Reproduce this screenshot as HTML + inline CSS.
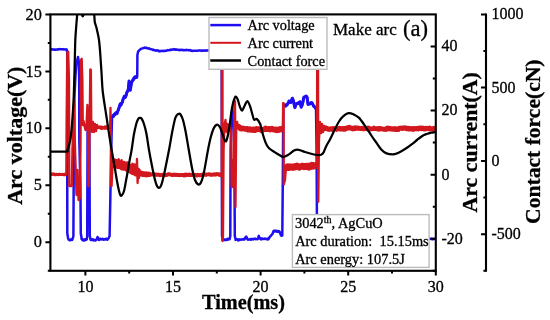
<!DOCTYPE html>
<html><head><meta charset="utf-8"><title>Arc plot</title>
<style>html,body{margin:0;padding:0;background:#fff;width:550px;height:320px;overflow:hidden}svg{display:block}</style>
</head><body>
<svg width="550" height="320" viewBox="0 0 550 320">
<defs><clipPath id="pc"><rect x="50.4" y="14.4" width="385.4" height="256.4"/></clipPath></defs>
<rect width="550" height="320" fill="#fff"/>
<g clip-path="url(#pc)" fill="none" stroke-linejoin="round" stroke-linecap="butt">
<polyline points="50.4,49.0 50.9,49.0 51.4,49.4 51.9,49.4 52.4,49.6 52.9,49.4 53.5,49.6 54.0,49.7 54.5,49.5 55.0,49.8 55.5,49.7 56.0,49.4 56.5,49.4 57.0,49.6 57.5,49.7 58.0,49.4 58.5,49.2 59.1,49.2 59.6,49.1 60.1,49.2 60.6,49.3 61.1,49.3 61.6,49.3 62.1,49.3 62.6,49.3 63.1,49.4 63.6,49.3 64.2,49.2 64.7,49.5 65.2,49.4 65.7,49.4 66.2,49.3 66.7,49.6 67.2,52.0 67.3,233.5 68.0,237.5 68.0,238.1 68.5,239.4 69.0,239.9 69.5,239.9 70.0,240.4 70.5,239.9 71.0,239.4 71.6,239.8 72.1,240.0 72.6,239.0 73.4,236.0 73.8,160.0 74.3,100.0 75.5,75.0 76.5,63.0 78.0,57.0 78.9,62.0 79.2,80.0 79.3,140.0 80.4,185.0 80.8,233.5 81.5,237.5 81.5,239.0 82.0,239.1 82.5,240.1 83.0,239.6 83.5,240.5 84.0,239.5 84.6,240.4 85.1,239.3 85.7,239.5 86.2,239.8 86.8,239.3 87.2,236.0 87.6,130.0 88.5,110.0 89.4,130.0 89.8,236.0 90.6,239.8 90.6,239.5 91.1,239.9 91.7,239.6 92.2,240.0 92.7,239.3 93.3,239.4 93.8,240.4 94.4,240.0 94.9,240.1 95.4,240.5 96.0,239.9 96.5,239.4 97.0,239.0 97.5,237.0 98.0,238.5 98.5,239.7 99.0,240.0 99.5,238.8 100.1,239.4 100.6,238.8 101.1,239.2 101.6,239.5 102.1,239.1 102.7,238.8 103.2,239.4 103.7,239.8 104.2,239.5 104.8,239.2 105.3,239.5 105.8,238.7 106.3,238.7 106.8,238.9 107.4,239.7 107.9,238.7 108.4,238.6 109.6,236.0 110.3,200.0 111.2,150.0 112.0,118.0 112.1,116.7 112.5,117.1 112.9,116.4 113.3,116.1 113.7,116.4 114.2,114.8 114.8,114.2 115.3,113.1 115.7,112.5 116.1,112.9 116.5,112.5 116.9,113.2 117.3,113.2 117.8,111.6 118.2,109.7 118.6,109.9 119.0,108.3 119.4,106.7 119.8,105.6 120.2,103.8 121.0,105.4 121.5,103.2 122.1,103.0 122.6,101.8 123.0,99.1 123.4,99.0 123.9,97.7 124.3,96.0 124.7,96.4 125.2,96.6 125.6,97.6 126.2,94.8 126.7,93.2 127.1,91.4 127.5,91.6 127.9,90.9 128.3,89.4 129.1,81.5 129.6,88.7 130.2,90.3 130.7,87.4 131.1,84.4 131.6,82.1 132.1,81.7 132.7,79.8 133.2,80.1 133.6,78.5 134.0,79.3 134.4,77.7 134.8,78.4 135.2,77.8 135.7,77.3 136.1,77.3 136.5,77.5 137.2,76.6 137.3,70.0 137.4,55.0 138.1,51.6 139.5,50.0 141.5,48.6 144.8,47.7 144.8,47.6 145.4,47.8 146.0,47.9 146.6,47.7 147.2,48.3 147.9,48.4 148.5,48.4 149.1,48.3 149.7,49.0 150.3,48.9 150.9,49.1 151.6,49.4 152.3,49.5 152.9,49.9 153.6,49.7 154.3,50.2 155.0,50.2 155.6,50.6 156.2,50.7 156.9,50.3 157.5,50.5 158.1,50.6 158.8,51.2 159.4,51.0 160.0,51.2 160.6,51.0 161.2,51.0 161.8,50.9 162.4,50.8 163.0,50.9 163.6,50.9 164.2,51.0 164.8,50.8 165.4,50.9 166.0,50.7 166.6,50.7 167.2,50.4 167.8,50.0 168.4,50.3 169.0,50.2 169.6,50.1 170.2,49.8 170.8,49.9 171.4,49.5 172.0,49.8 172.6,49.6 173.2,49.3 173.8,49.1 174.4,49.6 175.0,49.7 175.7,49.3 176.3,49.8 176.9,49.7 177.5,49.6 178.1,49.8 178.8,50.1 179.4,50.2 180.0,49.7 180.6,50.1 181.2,49.7 181.8,50.1 182.4,49.8 183.0,50.2 183.6,50.2 184.2,50.0 184.8,50.3 185.4,50.0 186.0,49.9 186.6,50.2 187.2,49.9 187.8,50.1 188.4,50.2 189.0,50.4 189.6,50.2 190.2,50.1 190.8,50.7 191.4,50.5 192.1,50.9 192.7,51.0 193.3,50.7 193.9,50.8 194.5,50.8 195.1,50.8 195.7,50.8 196.3,50.7 196.9,50.7 197.6,50.8 198.2,50.5 198.8,50.4 199.4,50.6 200.0,50.4 200.6,50.4 201.2,50.9 201.9,50.6 202.5,50.7 203.1,50.4 203.8,50.7 204.4,50.7 205.0,50.4 205.6,50.7 206.2,50.7 206.9,50.3 207.5,50.6 208.1,50.5 208.8,50.6 209.4,50.4 210.0,50.6 210.6,50.6 211.2,50.2 211.8,50.3 212.4,50.6 213.1,50.8 213.7,50.4 214.3,50.5 214.9,50.5 215.5,50.3 216.1,50.2 216.7,50.1 217.3,50.1 217.9,50.2 218.6,50.0 219.2,50.1 219.8,50.3 220.4,49.9 221.0,50.3 221.6,52.0 222.0,236.0 222.8,239.3 222.3,239.7 222.8,239.0 223.3,239.9 223.9,239.2 224.4,239.9 224.9,239.9 225.4,240.0 225.9,239.5 226.5,239.9 227.0,239.9 227.5,238.7 228.0,239.0 228.6,239.5 229.1,239.3 229.6,239.1 230.3,236.0 230.6,150.0 231.3,116.0 232.2,110.0 233.3,116.0 234.3,150.0 234.8,236.0 235.6,239.6 235.6,239.9 236.1,239.1 236.6,239.4 237.2,239.7 237.7,239.3 238.2,240.5 238.7,240.1 239.3,239.4 239.8,240.0 240.3,239.7 240.8,239.4 241.3,239.4 241.9,239.7 242.4,239.2 242.9,239.6 243.4,239.4 244.0,238.8 244.5,239.5 245.0,238.5 245.6,237.2 246.2,236.6 246.8,237.5 247.5,239.4 248.0,239.7 248.5,239.6 249.0,239.6 249.5,239.6 250.0,239.5 250.5,239.0 251.0,239.8 251.5,239.2 252.0,238.9 252.6,239.2 253.1,239.5 253.6,239.1 254.1,238.8 254.6,238.8 255.1,238.6 255.6,239.2 256.1,239.1 256.6,239.0 257.1,239.2 257.6,239.3 258.2,237.9 258.8,235.9 259.4,237.6 260.0,238.7 260.5,238.5 261.0,239.4 261.5,238.7 262.0,238.4 262.5,238.9 263.0,239.0 263.5,238.9 264.0,238.8 264.5,238.6 265.0,238.9 265.5,238.8 266.0,239.1 266.5,238.9 267.0,238.8 267.5,239.5 268.0,238.5 268.5,239.3 269.0,238.0 269.5,237.6 270.0,236.6 270.5,236.1 271.0,235.8 271.5,234.9 272.0,234.2 272.6,233.8 273.1,232.0 273.7,230.7 274.2,231.6 274.8,231.3 275.4,230.7 275.9,231.3 276.4,230.9 277.0,231.6 277.5,231.0 278.0,232.0 278.5,231.7 279.0,231.1 279.5,231.6 280.0,232.4 280.5,234.1 281.0,235.6 281.6,235.7 282.3,235.6 282.8,180.0 283.3,104.0 284.3,104.6 284.9,105.0 285.5,106.1 285.9,105.3 286.4,104.9 286.9,104.6 287.3,104.8 287.7,103.9 288.1,103.3 288.6,102.5 289.0,101.0 289.4,101.6 289.9,101.2 290.3,102.3 290.7,102.2 291.1,101.9 291.5,100.3 292.0,99.3 292.4,98.3 292.8,98.8 293.2,99.8 293.6,101.3 294.0,103.5 294.5,105.0 294.9,107.4 295.3,106.2 295.8,105.4 296.2,104.5 296.6,103.5 297.0,103.8 297.5,103.2 297.9,103.8 298.3,103.9 298.7,103.4 299.1,102.9 299.6,102.1 300.0,101.8 300.6,104.6 301.2,107.0 301.6,105.8 302.1,105.6 302.5,104.0 302.9,102.4 303.4,100.0 303.8,97.8 304.2,97.7 304.6,97.3 305.1,96.9 305.5,96.8 305.9,96.4 306.3,96.1 306.7,96.3 307.1,97.2 307.6,100.8 308.0,104.7 308.4,104.2 308.8,104.1 309.3,103.6 309.7,103.6 310.1,103.7 310.5,102.7 311.0,102.6 311.4,102.9 311.8,102.7 312.2,103.5 312.6,104.0 313.1,104.8 313.5,105.5 313.9,106.5 314.4,106.4 314.8,106.7 315.2,107.6 315.6,107.9 316.0,108.2 316.6,150.0 317.0,236.0 318.0,239.2 318.0,238.9 318.5,238.8 319.0,238.6 319.5,238.7 320.0,239.0 320.5,238.5 321.0,238.5 321.5,238.8 322.0,238.7 322.5,238.9 323.0,238.9 323.5,238.8 324.0,239.2 324.5,238.7 325.0,238.8 325.5,238.7 326.0,238.9 326.5,238.7 327.0,238.7 327.5,238.9 328.0,238.7 328.5,238.8 329.0,239.0 329.5,238.5 330.0,238.5 330.5,238.6 331.0,238.9 331.5,238.9 332.0,238.7 332.5,238.8 333.0,238.7 333.5,238.9 334.0,238.7 334.5,239.2 335.0,239.4 335.5,239.5 336.0,239.4 336.5,239.5 337.0,238.9 337.5,239.1 338.0,239.4 338.5,239.3 339.0,239.1 339.5,239.4 340.0,239.2 340.5,239.3 341.0,239.0 341.5,238.9 342.0,239.1 342.5,238.9 343.0,239.0 343.5,239.2 344.0,238.8 344.5,238.5 345.0,238.5 345.5,238.6 346.0,239.0 346.5,238.8 347.0,238.8 347.5,238.7 348.0,239.3 348.5,238.9 349.0,238.8 349.5,238.6 350.0,238.6 350.5,238.6 351.0,238.9 351.5,238.6 352.0,238.5 352.5,238.8 353.0,238.6 353.5,239.0 354.0,238.5 354.5,238.8 355.0,238.9 355.5,238.7 356.0,239.0 356.5,238.7 357.0,238.5 357.5,238.6 358.0,238.4 358.5,238.7 359.0,238.6 359.5,239.0 360.0,239.0 360.5,238.8 361.0,238.6 361.5,238.8 362.0,238.9 362.5,239.0 363.0,239.0 363.5,239.4 364.0,238.9 364.5,238.9 365.0,239.4 365.5,239.2 366.0,239.4 366.5,239.1 367.0,239.4 367.5,239.2 368.0,239.3 368.5,239.2 369.0,239.1 369.5,238.9 370.0,238.9 370.5,239.3 371.0,239.3 371.5,239.3 372.0,239.0 372.5,239.2 373.0,239.2 373.5,239.0 374.0,239.0 374.5,238.8 375.0,238.8 375.5,238.8 376.0,238.6 376.5,239.0 377.0,239.0 377.5,238.5 378.0,239.1 378.5,239.1 379.0,238.9 379.5,238.6 380.0,239.2 380.5,238.7 381.0,239.3 381.5,239.1 382.0,238.7 382.5,238.8 383.0,239.1 383.5,239.1 384.0,239.2 384.5,239.3 385.0,238.9 385.5,238.8 386.0,239.3 386.5,238.8 387.0,239.3 387.5,238.9 388.0,239.3 388.5,239.3 389.0,239.3 389.5,239.1 390.0,239.3 390.5,238.9 391.0,239.1 391.5,238.8 392.0,239.0 392.5,238.8 393.0,238.6 393.5,238.7 394.0,238.4 394.5,238.5 395.0,238.9 395.5,238.9 396.0,239.2 396.5,239.0 397.0,238.7 397.5,238.9 398.0,239.1 398.5,239.0 399.0,238.7 399.5,239.2 400.0,239.1 400.5,238.7 401.0,238.9 401.5,238.8 402.0,239.0 402.5,238.7 403.0,238.7 403.5,238.8 404.0,239.0 404.5,238.4 405.0,238.4 405.5,238.7 406.0,238.9 406.5,238.8 407.0,238.8 407.5,239.0 408.0,239.0 408.5,238.6 409.0,239.0 409.5,238.5 410.0,238.5 410.5,238.8 411.0,238.6 411.5,238.8 412.0,238.5 412.5,239.1 413.0,238.8 413.5,238.9 414.0,239.1 414.5,239.0 415.0,239.1 415.5,239.3 416.0,239.2 416.5,238.8 417.0,238.9 417.5,239.1 418.0,239.0 418.5,239.1 419.0,238.9 419.5,238.6 420.0,238.7 420.5,239.1 421.0,238.7 421.5,238.9 422.0,239.0 422.5,238.8 423.0,238.8 423.5,238.8 424.0,238.7 424.5,239.1 425.0,239.0 425.5,239.3 426.0,238.9 426.5,239.3 427.0,239.2 427.5,239.0 428.0,238.9 428.5,238.7 429.0,239.0 429.5,238.8 430.0,239.0 430.5,238.7 431.0,238.7 431.5,238.8 432.0,239.2 432.5,238.8 433.0,239.3 433.5,238.9 434.0,239.1 434.5,238.9 435.0,239.1 435.5,238.8 436.0,238.9 436.5,239.2 437.0,238.7" stroke="#1f0ff0" stroke-width="2.5"/>
<polyline points="112.1,117.3 112.6,116.7 113.2,115.4 113.7,115.7 114.2,114.2 114.8,114.7 115.3,114.1 115.8,113.2 116.4,113.8 116.9,113.6 117.5,111.5 118.0,110.7 118.6,108.6 119.1,107.7 119.7,105.5 120.2,104.0 121.0,104.6 121.5,103.5 122.1,102.4 122.6,101.0 123.2,98.8 123.7,98.0 124.3,96.4 124.9,96.2 125.6,96.5 126.2,95.1 126.7,92.8 127.2,91.9 127.8,90.7 128.3,89.5 129.1,81.0 129.6,87.7 130.2,90.1 130.9,86.5 131.6,82.2 132.1,81.6 132.7,80.3 133.2,79.6 133.7,78.6 134.3,77.6 134.8,76.8 135.4,76.6 135.9,76.5 136.5,77.5 137.2,76.7" stroke="#1f0ff0" stroke-width="3.0"/>
<polyline points="284.3,104.2 284.9,105.0 285.5,105.9 286.1,105.9 286.7,105.1 287.3,104.5 287.9,103.3 288.4,102.5 289.0,101.1 289.6,101.6 290.1,102.0 290.7,102.5 291.3,101.3 291.8,99.5 292.4,98.2 293.0,100.1 293.6,101.7 294.2,104.8 294.9,107.6 295.5,105.9 296.2,103.6 296.7,103.5 297.2,103.3 297.8,103.1 298.3,103.0 298.9,102.5 299.4,102.1 300.0,101.8 300.6,104.4 301.2,107.2 301.9,105.4 302.5,103.8 303.1,100.9 303.8,97.4 304.3,97.1 304.9,96.5 305.4,96.6 305.9,96.0 306.5,96.6 307.1,97.5 308.0,104.0 308.5,103.9 309.1,104.0 309.6,104.0 310.1,103.8 310.7,103.2 311.2,102.8 311.8,102.6 312.4,103.5 312.9,104.5 313.5,106.0 314.1,106.5 314.6,106.8 315.2,107.6 316.0,108.8" stroke="#1f0ff0" stroke-width="3.0"/>
<polyline points="50.4,174.4 50.9,174.6 51.4,173.8 51.9,174.1 52.5,173.9 53.0,174.8 53.5,174.6 54.0,173.9 54.5,175.1 55.0,175.2 55.5,175.0 56.0,175.1 56.6,174.6 57.1,174.3 57.6,174.8 58.1,174.1 58.6,174.1 59.1,174.0 59.6,173.7 60.1,174.2 60.7,174.2 61.2,174.7 61.7,174.3 62.2,174.5 62.7,174.3 63.2,174.5 63.7,174.3 64.2,174.1 64.8,175.0 65.3,175.0 65.8,174.8 66.3,174.6 66.6,120.0 67.3,52.5 68.2,51.7 69.0,80.0 69.3,186.0 70.0,186.0 71.8,186.0 72.4,150.0 73.5,120.0 74.3,100.5 74.8,140.0 76.5,195.0 77.6,170.0 78.5,200.0 79.8,198.0 80.5,150.0 81.0,60.0 81.7,58.7 82.4,80.0 82.8,125.0 83.5,121.0 84.5,126.0 85.5,130.0 86.5,125.0 87.4,105.0 88.0,130.0 88.3,186.0 88.9,186.0 89.3,140.0 89.8,110.0 90.3,69.4 90.9,70.0 91.3,125.0 92.0,132.0 93.0,122.0 94.0,132.0 95.0,124.0 96.0,131.0 97.0,125.0 97.0,128.1 97.5,127.9 98.0,127.8 98.5,127.8 99.0,128.1 99.6,127.2 100.1,127.8 100.6,127.3 101.1,128.8 101.6,127.1 102.1,128.7 102.6,127.2 103.1,128.4 103.7,127.7 104.2,127.7 104.7,128.3 105.2,126.4 105.7,126.3 106.2,128.0 106.7,127.2 107.2,126.3 107.8,128.0 108.3,127.9 108.8,126.2 109.3,126.8 109.8,126.3 110.1,128.0 110.5,108.0 110.9,140.0 111.1,186.0 111.6,186.0 112.3,170.0 113.2,160.0 113.2,161.4 113.6,161.7 114.0,163.9 114.5,163.8 114.9,161.2 115.3,164.3 115.8,162.6 116.2,164.3 116.6,163.9 117.0,163.5 117.5,162.5 117.9,161.3 118.3,160.0 118.7,159.2 119.2,162.9 119.6,163.0 120.0,164.0 120.4,162.4 120.8,161.8 121.2,163.0 121.6,160.2 122.0,163.2 122.4,162.8 122.8,162.9 123.2,163.7 123.6,164.7 124.0,162.0 124.4,162.4 124.8,163.8 125.2,163.9 125.6,163.2 126.0,164.7 126.4,162.8 126.8,162.5 127.2,162.5 127.6,163.7 128.0,162.5 128.4,165.7 128.8,167.7 129.2,165.2 129.6,167.5 130.0,169.7 130.4,165.9 130.8,166.2 131.2,169.1 131.6,169.1 132.0,167.5 132.4,163.7 132.8,164.2 133.2,166.9 133.6,167.7 134.0,167.6 134.5,164.5 134.9,167.5 135.3,165.0 135.7,167.6 136.1,166.6 136.5,171.7 137.0,159.0 137.6,183.0 138.2,170.0 139.0,178.0 139.6,170.0 137.6,168.3 138.2,169.4 138.7,170.7 139.3,171.2 139.9,171.0 140.4,172.7 141.0,173.5 141.5,172.8 142.0,172.7 142.5,174.1 143.0,173.5 143.5,173.0 144.0,173.6 144.5,173.2 145.0,174.4 145.5,174.1 146.0,173.5 146.5,175.0 147.0,173.7 147.5,174.1 148.0,173.5 148.5,174.7 149.0,173.4 149.5,174.0 150.0,173.2 150.5,173.9 151.0,174.3 151.5,174.1 152.0,173.9 152.5,174.0 153.0,173.9 153.5,174.2 154.0,173.4 154.5,174.3 155.0,174.1 155.5,175.3 156.0,175.5 156.5,173.9 157.0,174.1 157.5,175.0 158.0,174.8 158.5,173.8 159.0,175.0 159.5,175.4 160.0,174.4 160.5,174.1 161.0,174.4 161.5,175.0 162.0,173.8 162.5,173.9 163.0,173.8 163.5,174.7 164.0,174.6 164.5,174.3 165.0,174.6 165.5,173.9 166.0,174.3 166.5,175.4 167.0,174.6 167.5,174.0 168.0,175.2 168.5,174.2 169.0,174.1 169.5,173.8 170.0,174.2 170.5,174.4 171.0,174.5 171.5,175.6 172.0,174.3 172.5,174.1 173.0,174.5 173.5,174.9 174.0,173.7 174.5,174.6 175.0,173.9 175.5,174.3 176.0,174.4 176.5,175.1 177.0,174.7 177.5,174.4 178.0,175.1 178.5,174.5 179.0,174.8 179.5,176.0 180.0,175.3 180.5,175.7 181.0,174.7 181.5,175.6 182.0,174.9 182.5,174.1 183.0,175.3 183.5,174.5 184.0,174.2 184.5,174.0 185.0,173.7 185.5,173.9 186.0,174.7 186.5,173.8 187.0,174.2 187.5,174.7 188.0,175.1 188.5,174.9 189.0,175.7 189.5,174.7 190.0,174.9 190.5,174.9 191.0,174.3 191.5,174.5 192.0,174.3 192.5,175.3 193.0,174.1 193.5,174.9 194.0,173.9 194.5,174.6 195.0,174.6 195.5,174.1 196.0,175.2 196.5,174.9 197.0,174.8 197.5,174.0 198.0,174.7 198.5,174.5 199.0,174.9 199.5,175.7 200.0,175.6 200.5,174.2 201.0,175.4 201.5,175.8 202.0,174.9 202.5,174.0 203.0,175.2 203.5,174.2 204.0,175.2 204.5,175.1 205.0,175.1 205.5,175.4 206.0,174.1 206.5,175.5 207.0,174.7 207.5,174.3 208.0,174.6 208.5,174.8 209.0,173.6 209.5,174.2 210.0,174.8 210.5,174.3 211.0,174.4 211.5,174.1 212.0,175.3 212.5,174.1 213.0,174.9 213.5,174.8 214.0,173.6 214.5,175.3 215.0,173.8 215.5,175.1 216.0,175.0 216.5,174.9 217.0,174.9 217.5,174.1 218.0,174.2 218.5,174.1 219.0,175.2 219.5,173.6 220.0,174.0 220.5,175.7 221.0,175.8 221.5,175.8 221.8,174.5 221.9,40.0 222.5,40.0 222.6,241.0 223.0,236.0 223.6,150.0 224.5,125.0 225.5,120.0 226.5,132.0 227.5,124.0 228.5,131.0 229.5,125.0 230.5,130.0 231.2,131.0 231.6,186.0 232.6,187.0 233.3,160.0 233.8,187.0 234.0,150.0 234.4,101.0 235.0,101.0 235.3,135.0 235.5,207.0 236.2,130.0 237.2,122.0 237.5,125.4 238.0,125.2 238.5,126.7 239.0,126.4 239.5,126.3 240.0,127.1 240.5,127.0 241.0,126.6 241.5,127.7 242.0,127.8 242.5,128.6 243.0,129.5 243.5,129.2 244.0,128.8 244.5,129.4 245.0,129.4 245.5,128.4 246.0,129.0 246.5,127.5 247.0,127.9 247.5,128.3 248.0,130.0 248.5,130.1 249.0,130.6 249.5,130.1 250.0,130.3 250.5,130.6 251.0,128.9 251.5,128.5 252.0,128.1 252.5,128.6 253.0,129.4 253.5,129.3 254.0,129.5 254.5,130.1 255.0,129.9 255.5,131.3 256.0,130.4 256.5,130.1 257.0,130.2 257.5,131.0 258.0,130.1 258.5,130.9 259.0,129.9 259.5,130.0 260.0,129.4 260.5,130.7 261.0,130.5 261.5,129.9 262.0,129.3 262.5,129.8 263.0,129.6 263.5,130.3 264.0,130.4 264.5,130.0 265.0,129.1 265.5,128.5 266.0,129.6 266.5,129.4 267.0,128.0 267.5,128.6 268.0,128.7 268.5,129.7 269.0,128.3 269.5,128.6 270.0,130.0 270.5,129.7 271.0,129.7 271.5,130.4 272.0,130.4 272.5,130.9 273.0,130.5 273.5,130.4 274.0,130.3 274.5,130.8 275.0,131.2 275.5,130.4 276.0,130.1 276.5,130.4 277.0,130.4 277.5,130.0 278.0,129.4 278.5,130.1 279.1,129.9 279.6,130.0 280.1,129.8 280.6,128.3 281.1,129.2 281.6,128.5 282.1,128.4 282.6,128.5 282.9,128.0 283.1,103.2 283.6,103.2 283.8,184.5 285.0,180.0 286.0,168.0 286.0,166.0 286.5,165.8 287.0,166.2 287.5,166.1 288.0,167.6 288.5,166.2 289.0,166.3 289.5,167.0 290.0,167.9 290.5,165.9 291.0,165.1 291.5,167.8 292.0,167.3 292.5,167.3 293.0,166.9 293.5,166.1 294.0,165.6 294.5,165.4 295.0,165.5 295.5,164.6 296.0,167.0 296.5,167.3 297.0,164.7 297.5,166.2 298.0,164.6 298.5,166.1 299.0,165.2 299.5,166.3 300.0,165.3 300.5,165.8 301.0,165.5 301.5,163.9 302.0,164.0 302.5,164.1 303.0,165.1 303.5,165.9 304.0,166.8 304.5,166.9 305.0,165.5 305.5,164.9 306.0,165.8 306.5,167.9 307.0,167.7 307.5,167.5 308.0,168.2 308.5,166.6 309.0,165.6 309.5,164.6 310.0,164.1 310.5,164.3 311.0,167.1 311.5,168.4 312.0,166.0 312.5,167.5 313.0,168.2 313.5,167.6 314.0,165.6 314.5,166.9 315.0,165.3 315.5,164.1 316.0,163.1 316.5,165.0 316.9,166.0 317.2,40.0 318.0,40.0 318.3,201.8 319.0,140.0 320.0,122.0 321.0,133.0 322.0,124.0 323.0,132.0 324.0,126.0 325.0,130.0 325.0,128.3 325.5,129.5 326.0,128.9 326.5,130.0 327.0,129.2 327.5,130.0 328.0,130.2 328.5,129.2 329.0,129.7 329.5,130.4 330.0,129.8 330.5,129.6 331.0,129.5 331.5,130.2 332.0,129.0 332.5,129.3 333.0,128.9 333.5,128.6 334.0,127.8 334.5,128.7 335.0,129.3 335.5,128.6 336.0,128.8 336.5,129.9 337.0,129.5 337.5,129.0 338.0,128.5 338.5,129.7 339.0,129.0 339.5,129.1 340.0,128.8 340.5,129.4 341.0,129.5 341.5,128.8 342.0,128.4 342.5,129.8 343.0,129.7 343.5,128.2 344.0,128.8 344.5,128.8 345.0,128.0 345.5,128.3 346.0,128.6 346.5,128.0 347.0,127.7 347.5,127.3 348.0,127.3 348.5,127.1 349.0,127.0 349.5,127.2 350.0,128.4 350.5,128.1 351.0,128.7 351.5,129.0 352.0,128.9 352.5,127.7 353.0,129.2 353.5,128.1 354.0,129.3 354.5,129.6 355.0,129.3 355.5,128.9 356.0,128.2 356.5,127.9 357.0,128.6 357.5,127.8 358.0,128.2 358.5,127.8 359.0,127.7 359.5,128.0 360.0,128.8 360.5,128.5 361.0,128.4 361.5,128.6 362.0,128.6 362.5,128.4 363.0,128.2 363.5,129.0 364.0,128.6 364.5,127.9 365.0,128.2 365.5,128.3 366.0,128.8 366.5,128.5 367.0,129.7 367.5,129.4 368.0,129.2 368.5,130.0 369.0,129.2 369.5,129.6 370.0,130.2 370.5,129.5 371.0,129.4 371.5,128.7 372.0,129.5 372.5,128.9 373.0,128.1 373.5,128.3 374.0,128.8 374.5,129.0 375.0,129.3 375.5,129.0 376.0,129.7 376.5,129.8 377.0,129.6 377.5,128.6 378.0,128.1 378.5,127.9 379.0,127.8 379.5,127.8 380.0,127.3 380.5,128.1 381.0,129.6 381.5,129.6 382.0,129.2 382.5,129.6 383.0,128.8 383.5,128.9 384.0,129.3 384.5,129.7 385.0,128.6 385.5,129.2 386.0,129.6 386.5,128.8 387.0,129.1 387.5,127.4 388.0,128.6 388.5,128.5 389.0,127.4 389.5,128.5 390.0,129.1 390.5,128.5 391.0,129.3 391.5,129.6 392.0,129.4 392.5,128.7 393.0,128.1 393.5,128.8 394.0,128.2 394.5,128.8 395.0,128.5 395.5,128.9 396.0,129.4 396.5,130.0 397.0,130.3 397.5,129.3 398.0,128.3 398.5,129.2 399.0,128.1 399.5,128.5 400.0,128.5 400.5,127.3 401.0,128.6 401.5,128.0 402.0,128.2 402.5,128.4 403.0,128.7 403.5,128.3 404.0,128.8 404.5,128.7 405.0,128.6 405.5,128.9 406.0,129.7 406.5,129.0 407.0,128.8 407.5,128.9 408.0,128.5 408.5,129.7 409.0,129.3 409.5,128.3 410.0,128.4 410.5,128.4 411.0,128.4 411.5,128.1 412.0,128.3 412.5,128.6 413.0,127.6 413.5,128.1 414.0,127.3 414.5,127.8 415.0,127.5 415.5,128.4 416.0,128.8 416.5,129.4 417.0,128.9 417.5,129.6 418.0,128.9 418.5,129.8 419.0,129.7 419.5,128.9 420.0,128.5 420.5,129.0 421.0,128.9 421.5,129.1 422.0,128.5 422.5,128.7 423.0,128.9 423.5,129.0 424.0,128.8 424.5,128.9 425.0,129.2 425.5,128.6 426.0,128.9 426.5,127.8 427.0,127.4 427.5,128.7 428.0,127.5 428.5,128.3 429.0,129.3 429.5,128.8 430.0,130.0 430.5,129.6 431.0,128.9 431.5,129.8 432.0,129.9 432.5,129.2 433.0,128.7 433.5,128.6 434.0,129.8 434.5,130.0 435.0,129.6 435.5,129.9 436.0,129.9 436.5,128.9 437.0,128.5" stroke="#d3171e" stroke-width="2.3"/>
<polyline points="97.0,127.1 97.5,126.7 98.0,127.1 98.5,127.1 99.0,126.9 99.6,127.1 100.1,127.1 100.6,127.1 101.1,127.6 101.6,127.1 102.1,127.2 102.6,127.8 103.1,127.6 103.7,127.5 104.2,127.6 104.7,127.8 105.2,128.2 105.7,127.9 106.2,127.9 106.7,128.1 107.2,128.0 107.8,128.1 108.3,127.9 108.8,127.5 109.3,127.4 109.8,127.8" stroke="#d3171e" stroke-width="3.2"/>
<polyline points="113.3,162.7 113.8,162.6 114.3,163.6 114.9,163.9 115.4,164.0 115.9,164.2 116.4,163.4 117.0,163.4 117.5,163.5 118.0,164.7 118.5,164.1 119.0,164.6 119.5,164.7 120.0,164.8 120.5,164.7 121.0,165.0 121.5,164.8 122.0,165.1 122.5,166.2 123.0,165.5 123.5,166.5 124.0,166.4 124.5,166.1 125.0,165.9 125.5,166.1 126.0,166.2 126.5,166.2 127.0,166.7 127.5,166.9 128.0,167.4 128.5,168.5 129.0,168.2 129.5,168.0 130.0,168.6 130.5,169.2 131.0,168.8 131.5,169.3 132.0,169.0 132.5,169.5 133.0,170.7 133.5,170.4 134.0,171.0 134.5,171.2 135.0,171.2 135.5,171.2 136.0,171.3 136.5,172.3 137.0,171.9" stroke="#d3171e" stroke-width="8.6"/>
<polyline points="136.0,172.0 136.5,172.5 137.0,172.4 137.5,173.0 138.0,172.8 138.5,172.6 139.0,173.3 139.5,173.5 140.0,173.4 140.5,173.7 141.0,173.1 141.5,173.3 142.0,173.5 142.5,173.8 143.0,174.4 143.5,174.4 144.0,173.9 144.5,174.4 145.0,174.2 145.5,174.6 146.0,174.7 146.5,174.0 147.0,174.7 147.5,174.4 148.0,174.3 148.5,174.5 149.0,174.4 149.5,174.1 150.0,174.0" stroke="#d3171e" stroke-width="5.2"/>
<polyline points="141.0,174.5 141.5,174.6 142.0,174.4 142.5,174.5 143.0,174.2 143.5,174.2 144.0,174.8 144.5,174.4 145.0,174.4 145.5,174.8 146.0,174.8 146.5,174.4 147.0,174.6 147.5,174.6 148.0,174.7 148.5,174.6 149.0,175.0 149.5,174.8 150.0,174.8 150.5,174.6 151.0,174.4 151.5,174.3 152.0,174.7 152.5,174.5 153.0,174.4 153.5,174.1 154.0,174.2 154.5,174.3 155.0,174.5 155.5,174.4 156.0,174.6 156.5,174.6 157.0,174.6 157.5,174.9 158.0,174.9 158.5,174.9 159.0,174.9 159.5,175.1 160.0,175.3 160.5,175.0 161.0,174.9 161.5,175.1 162.0,175.1 162.5,175.3 163.0,174.9 163.5,175.4 164.0,174.9 164.5,175.2 165.0,175.2 165.5,175.1 166.0,175.3 166.5,175.1 167.0,174.6 167.5,174.6 168.0,174.5 168.5,174.1 169.0,174.1 169.5,174.4 170.0,174.6 170.5,174.5 171.0,174.6 171.5,174.8 172.0,174.7 172.5,175.1 173.0,175.2 173.5,174.9 174.0,174.6 174.5,174.9 175.0,175.1 175.5,174.8 176.0,174.7 176.5,174.7 177.0,175.0 177.5,175.0 178.0,174.8 178.5,175.0 179.0,175.0 179.5,175.1 180.0,175.0 180.5,174.8 181.0,175.0 181.5,175.1 182.0,175.1 182.5,175.1 183.0,175.1 183.5,175.2 184.0,175.5 184.5,175.4 185.0,175.5 185.5,175.2 186.0,175.0 186.5,175.1 187.0,175.1 187.5,175.0 188.0,174.7 188.5,174.7 189.0,175.1 189.5,174.6 190.0,175.1 190.5,175.0 191.0,174.8 191.5,175.1 192.0,174.9 192.5,174.4 193.0,175.0 193.5,174.7 194.0,175.1 194.5,175.1 195.0,174.8 195.5,174.9 196.0,175.0 196.5,175.5 197.0,175.5 197.5,175.2 198.0,175.0 198.5,175.1 199.0,175.3 199.5,175.2 200.0,175.2 200.5,175.3 201.0,175.1 201.5,175.1 202.0,174.6 202.5,174.5 203.0,175.0 203.5,174.8 204.0,174.5 204.5,174.4 205.0,174.5 205.5,174.5 206.0,174.6 206.5,174.5 207.0,174.4 207.5,174.3 208.0,174.4 208.5,174.3 209.0,174.3 209.5,174.5 210.0,174.4 210.5,174.8 211.0,174.7 211.5,174.7 212.0,174.8 212.5,174.6 213.0,174.5 213.5,174.5 214.0,174.6 214.5,174.5 215.0,174.4 215.5,174.3 216.0,174.5 216.5,174.0 217.0,174.2 217.5,174.2 218.0,174.2 218.5,174.6 219.0,174.4 219.5,174.4 220.0,174.6 220.5,175.2 221.0,174.8 221.5,174.7" stroke="#d3171e" stroke-width="3.8"/>
<polyline points="237.5,126.4 238.0,126.8 238.5,126.4 239.0,126.7 239.5,127.4 240.0,128.2 240.5,128.6 241.0,128.6 241.5,128.8 242.0,128.4 242.5,128.6 243.0,128.3 243.5,128.4 244.0,128.4 244.5,128.9 245.0,129.1 245.5,129.1 246.0,128.9 246.5,129.0 247.0,128.8 247.5,129.6 248.0,129.3 248.5,129.6 249.0,129.7 249.5,129.1 250.0,129.0 250.5,129.2 251.0,130.0 251.5,129.9 252.0,129.5 252.5,130.0 253.0,129.5 253.5,130.2 254.0,129.2 254.5,130.0 255.0,130.2 255.5,129.4 256.0,129.3 256.5,128.8 257.0,129.0 257.5,128.9 258.0,129.1 258.5,128.9 259.0,129.2 259.5,129.1 260.0,129.8 260.5,129.7 261.0,129.6 261.5,130.4 262.0,129.6 262.5,129.7 263.0,129.9 263.5,129.6 264.0,129.6 264.5,129.0 265.0,129.2 265.5,128.2 266.0,129.1 266.5,128.6 267.0,128.6 267.5,129.2 268.0,129.2 268.5,128.7 269.0,128.8 269.5,128.8 270.0,129.6 270.5,129.2 271.0,128.8 271.5,129.1 272.0,128.6 272.5,128.8 273.0,129.1 273.5,129.7 274.0,129.7 274.5,129.4 275.0,129.9 275.5,129.4 276.0,130.0 276.5,130.4 277.0,129.4 277.5,130.4 278.0,130.4 278.5,129.5 279.1,130.0 279.6,130.0 280.1,128.9 280.6,129.1 281.1,129.2 281.6,129.4 282.1,128.7 282.6,129.3" stroke="#d3171e" stroke-width="5.4"/>
<polyline points="286.5,167.0 287.0,167.6 287.5,166.7 288.0,167.5 288.5,167.2 289.0,166.8 289.5,167.5 290.0,166.8 290.5,166.9 291.0,167.0 291.5,166.8 292.0,166.8 292.5,166.7 293.0,167.5 293.5,166.8 294.0,166.8 294.5,166.6 295.0,167.1 295.5,166.4 296.0,166.3 296.5,166.3 297.0,165.9 297.5,166.1 298.0,166.5 298.5,166.7 299.0,167.1 299.5,167.4 300.0,166.7 300.5,166.7 301.0,166.6 301.5,166.5 302.0,166.3 302.5,166.3 303.0,166.0 303.5,166.3 304.0,166.8 304.5,166.4 305.0,166.7 305.5,166.3 306.0,166.6 306.5,166.2 307.0,166.8 307.5,166.9 308.0,166.3 308.5,167.0 309.0,166.5 309.5,167.2 310.0,166.1 310.5,165.6 311.0,166.1 311.5,165.7 312.0,165.1 312.5,165.6 313.0,166.0 313.5,165.4 314.0,166.0 314.5,165.6 315.0,165.9 315.5,166.1 316.0,165.9 316.5,166.3" stroke="#d3171e" stroke-width="6.5"/>
<polyline points="325.0,128.5 325.5,127.6 326.0,128.6 326.5,128.2 327.0,128.3 327.5,128.3 328.0,128.8 328.5,129.4 329.0,129.5 329.5,129.4 330.0,129.0 330.5,128.6 331.0,128.9 331.5,129.1 332.0,128.7 332.5,129.5 333.0,128.4 333.5,128.6 334.0,128.6 334.5,128.5 335.0,128.4 335.5,128.6 336.0,128.7 336.5,129.4 337.0,128.9 337.5,129.0 338.0,128.7 338.5,128.4 339.0,128.9 339.5,129.1 340.0,128.3 340.5,128.9 341.0,128.4 341.5,129.0 342.0,128.6 342.5,128.4 343.0,128.4 343.5,129.2 344.0,128.9 344.5,128.4 345.0,129.4 345.5,128.6 346.0,128.4 346.5,127.9 347.0,128.0 347.5,128.1 348.0,128.3 348.5,127.5 349.0,127.7 349.5,127.2 350.0,128.1 350.5,127.7 351.0,128.0 351.5,128.0 352.0,128.8 352.5,129.1 353.0,128.2 353.5,128.5 354.0,128.0 354.5,128.7 355.0,128.8 355.5,127.8 356.0,128.4 356.5,127.9 357.0,128.0 357.5,128.2 358.0,128.0 358.5,128.5 359.0,128.2 359.5,128.5 360.0,128.5 360.5,128.6 361.0,128.3 361.5,128.6 362.0,128.2 362.5,128.8 363.0,128.5 363.5,128.4 364.0,128.9 364.5,128.0 365.0,128.4 365.5,128.5 366.0,128.6 366.5,128.7 367.0,128.3 367.5,129.0 368.0,128.7 368.5,128.0 369.0,128.7 369.5,128.6 370.0,129.1 370.5,128.8 371.0,128.8 371.5,128.8 372.0,128.8 372.5,128.5 373.0,128.5 373.5,128.6 374.0,128.0 374.5,128.6 375.0,128.5 375.5,128.5 376.0,128.7 376.5,128.8 377.0,128.5 377.5,128.7 378.0,128.4 378.5,129.3 379.0,129.0 379.5,129.1 380.0,129.2 380.5,128.4 381.0,128.6 381.5,128.8 382.0,128.9 382.5,128.9 383.0,129.1 383.5,129.3 384.0,129.5 384.5,129.4 385.0,129.1 385.5,129.6 386.0,129.5 386.5,129.5 387.0,128.2 387.5,128.7 388.0,128.1 388.5,128.8 389.0,128.9 389.5,128.6 390.0,128.2 390.5,129.0 391.0,128.7 391.5,129.0 392.0,128.5 392.5,128.5 393.0,129.4 393.5,129.4 394.0,128.9 394.5,128.5 395.0,128.8 395.5,129.6 396.0,128.8 396.5,129.4 397.0,128.9 397.5,129.6 398.0,128.8 398.5,129.5 399.0,128.8 399.5,128.1 400.0,128.4 400.5,128.4 401.0,128.0 401.5,127.9 402.0,128.5 402.5,128.6 403.0,128.5 403.5,128.0 404.0,127.7 404.5,128.0 405.0,128.3 405.5,127.7 406.0,128.6 406.5,128.8 407.0,128.1 407.5,128.0 408.0,128.6 408.5,128.2 409.0,129.1 409.5,128.7 410.0,128.5 410.5,129.1 411.0,129.1 411.5,129.1 412.0,128.4 412.5,128.8 413.0,128.8 413.5,129.4 414.0,128.6 414.5,128.4 415.0,128.7 415.5,128.5 416.0,128.9 416.5,128.5 417.0,128.2 417.5,128.8 418.0,129.1 418.5,128.7 419.0,128.5 419.5,127.8 420.0,127.9 420.5,128.4 421.0,128.7 421.5,128.2 422.0,128.8 422.5,127.9 423.0,128.3 423.5,128.4 424.0,129.0 424.5,128.7 425.0,129.1 425.5,128.3 426.0,129.0 426.5,129.0 427.0,128.2 427.5,128.1 428.0,128.3 428.5,128.3 429.0,128.3 429.5,128.9 430.0,128.0 430.5,128.8 431.0,128.8 431.5,129.0 432.0,128.8 432.5,129.4 433.0,129.5 433.5,128.5 434.0,128.8 434.5,128.2 435.0,128.7 435.5,128.7 436.0,128.2 436.5,128.7 437.0,128.5" stroke="#d3171e" stroke-width="4.7"/>
<polyline points="50.4,174.5 50.9,174.2 51.4,174.4 51.9,174.2 52.5,173.9 53.0,173.9 53.5,174.0 54.0,173.9 54.5,174.3 55.0,174.4 55.5,174.5 56.0,174.1 56.6,174.2 57.1,174.3 57.6,174.4 58.1,174.7 58.6,174.8 59.1,174.7 59.6,174.7 60.1,174.7 60.7,174.4 61.2,174.7 61.7,174.5 62.2,174.6 62.7,174.3 63.2,174.7 63.7,174.8 64.2,174.2 64.8,174.4 65.3,174.1 65.8,174.2 66.3,174.1" stroke="#d3171e" stroke-width="2.8"/>
<path d="M50.4,151.6C53.0,151.6 63.4,151.9 66.3,151.6C69.1,151.3 67.1,150.9 67.5,150.0C67.9,149.1 68.3,148.0 68.8,146.0C69.3,144.0 70.1,141.7 70.6,138.0C71.1,134.3 71.6,128.7 72.0,124.0C72.4,119.3 72.7,114.8 73.0,110.0C73.3,105.2 73.6,100.8 73.8,95.0C74.0,89.2 74.2,81.7 74.4,75.0C74.6,68.3 74.8,60.8 74.9,55.0C75.1,49.2 75.1,44.5 75.3,40.0C75.5,35.5 75.8,32.1 76.1,28.0C76.4,23.9 76.8,19.2 77.1,15.5C77.4,11.8 77.4,6.8 78.0,6.0C78.6,5.2 79.7,9.3 80.5,11.0C81.3,12.7 82.0,16.3 82.8,16.3C83.5,16.3 83.8,13.1 85.0,11.0C86.2,8.9 88.6,4.5 90.0,4.0C91.4,3.5 92.6,6.1 93.3,8.0C94.0,9.9 94.0,13.2 94.3,15.5C94.5,17.8 94.5,20.2 94.8,22.0C95.1,23.8 95.6,24.7 96.0,26.0C96.4,27.3 96.5,27.7 97.0,30.0C97.5,32.3 98.4,35.7 99.0,40.0C99.6,44.3 100.0,50.3 100.4,56.0C100.8,61.7 101.2,68.0 101.6,74.0C102.0,80.0 102.0,85.2 102.8,92.0C103.6,98.8 105.0,107.0 106.2,115.0C107.4,123.0 108.7,131.7 110.0,140.0C111.3,148.3 113.1,158.2 114.3,165.0C115.5,171.8 116.2,176.5 117.0,181.0C117.8,185.5 118.7,189.6 119.3,192.0C119.9,194.4 120.1,195.0 120.6,195.5C121.0,196.0 121.4,195.8 122.0,195.0C122.6,194.2 123.2,193.8 124.0,191.0C124.8,188.2 125.5,183.2 126.5,178.0C127.5,172.8 128.8,164.7 129.7,160.0C130.5,155.3 130.9,154.3 131.6,150.0C132.3,145.7 133.2,138.5 134.0,134.0C134.8,129.5 135.8,125.6 136.5,123.0C137.2,120.4 137.9,119.4 138.5,118.5C139.1,117.6 139.5,117.8 140.0,117.8C140.5,117.8 140.8,117.5 141.5,118.5C142.2,119.5 143.2,121.4 144.0,124.0C144.8,126.6 145.7,129.7 146.5,134.0C147.3,138.3 148.1,144.7 149.0,150.0C149.9,155.3 151.0,161.0 152.0,166.0C153.0,171.0 154.2,176.7 155.0,180.0C155.8,183.3 156.4,184.7 157.0,186.0C157.6,187.3 158.2,187.7 158.8,187.8C159.4,187.9 160.0,187.6 160.6,186.5C161.2,185.4 161.8,183.8 162.5,181.0C163.2,178.2 163.9,175.2 165.0,170.0C166.1,164.8 167.8,156.2 169.0,150.0C170.2,143.8 171.0,138.2 172.0,133.0C173.0,127.8 174.2,122.0 175.0,119.0C175.8,116.0 176.4,115.9 177.0,115.0C177.6,114.1 178.2,113.9 178.8,113.8C179.4,113.7 179.8,113.5 180.5,114.5C181.2,115.5 182.2,117.2 183.0,120.0C183.8,122.8 184.5,126.0 185.5,131.0C186.5,136.0 187.7,143.8 188.8,150.0C189.9,156.2 191.0,163.0 192.0,168.0C193.0,173.0 194.0,177.3 195.0,180.0C196.0,182.7 197.2,184.0 198.2,184.4C199.2,184.8 200.0,184.6 201.0,182.5C202.0,180.4 202.9,177.2 204.0,172.0C205.1,166.8 206.7,156.8 207.8,151.0C208.9,145.2 209.8,140.8 210.8,137.0C211.8,133.2 212.6,130.6 213.6,128.5C214.6,126.4 216.1,124.8 217.1,124.6C218.1,124.3 218.9,125.5 219.8,127.0C220.7,128.5 221.4,131.2 222.3,133.5C223.2,135.8 224.4,140.1 225.2,141.0C226.0,141.9 226.3,141.5 227.0,139.0C227.7,136.5 228.7,131.2 229.5,126.0C230.3,120.8 231.1,112.8 232.0,108.0C232.9,103.2 234.1,98.8 235.0,97.3C235.9,95.8 236.7,97.4 237.5,99.0C238.3,100.6 239.2,105.1 240.0,107.0C240.8,108.9 241.2,110.8 242.0,110.6C242.8,110.4 243.6,107.6 244.5,106.0C245.4,104.4 246.3,101.2 247.2,101.2C248.1,101.2 249.2,104.0 250.0,106.0C250.8,108.0 251.3,110.8 252.0,113.0C252.7,115.2 253.2,118.5 254.0,119.5C254.8,120.5 255.8,118.2 256.8,119.0C257.8,119.8 259.2,121.7 260.2,124.0C261.1,126.3 261.6,129.9 262.5,133.0C263.4,136.1 264.6,140.1 265.6,142.6C266.6,145.1 267.2,146.4 268.8,148.0C270.3,149.6 273.0,151.1 275.0,152.4C277.0,153.7 279.6,155.2 281.0,156.0C282.4,156.8 282.5,157.1 283.6,157.0C284.7,156.9 286.3,156.0 287.5,155.3C288.7,154.6 289.9,153.6 291.0,152.8C292.1,152.0 292.9,151.0 294.0,150.5C295.1,150.0 296.3,149.6 297.5,149.6C298.7,149.6 299.8,150.1 301.0,150.5C302.2,150.9 303.2,151.4 305.0,152.0C306.8,152.6 309.9,153.5 312.0,154.0C314.1,154.5 316.0,154.9 317.5,155.0C319.0,155.1 320.0,155.1 321.0,154.7C322.0,154.2 322.7,153.7 323.6,152.3C324.5,150.9 325.1,148.5 326.2,146.2C327.3,143.9 329.1,141.3 330.5,138.5C331.9,135.7 333.4,132.3 334.8,129.5C336.2,126.7 337.6,123.7 339.0,121.5C340.4,119.3 341.8,117.6 343.4,116.2C345.0,114.8 346.8,113.5 348.5,113.2C350.2,112.9 352.0,113.7 353.7,114.4C355.4,115.2 357.6,116.7 358.8,117.7C360.0,118.7 360.1,119.1 361.0,120.2C361.9,121.3 362.9,122.8 364.0,124.3C365.1,125.8 366.4,128.1 367.3,129.5C368.2,130.9 368.9,131.6 369.7,132.8C370.5,134.0 370.9,134.8 372.0,136.5C373.1,138.2 374.8,140.5 376.4,142.7C378.0,144.9 379.8,147.9 381.5,149.7C383.2,151.5 384.6,152.6 386.5,153.4C388.4,154.2 391.1,154.4 392.9,154.4C394.6,154.4 395.5,154.0 397.0,153.4C398.5,152.8 400.1,151.9 401.8,151.0C403.5,150.1 405.1,149.1 407.0,147.8C408.9,146.5 411.6,144.5 413.3,143.2C415.0,141.9 415.7,141.0 417.0,140.0C418.3,139.0 419.7,137.8 420.9,137.0C422.1,136.2 422.9,135.5 424.0,135.0C425.1,134.5 426.2,134.2 427.3,133.8C428.4,133.4 429.4,133.1 430.5,132.8C431.6,132.6 432.5,132.4 433.6,132.3C434.7,132.2 436.4,132.1 437.0,132.0" stroke="#000" stroke-width="2.25"/>
</g>
<rect x="50.4" y="14.4" width="385.4" height="256.4" fill="none" stroke="#000" stroke-width="2.1"/>
<path d="M45.4,242.3H50.4 M45.4,185.3H50.4 M45.4,128.3H50.4 M45.4,71.4H50.4 M45.4,14.4H50.4 M47.8,270.8H50.4 M47.8,213.8H50.4 M47.8,156.8H50.4 M47.8,99.8H50.4 M47.8,42.9H50.4 M85.4,270.8V275.6 M173.0,270.8V275.6 M260.6,270.8V275.6 M348.2,270.8V275.6 M435.8,270.8V275.6 M129.2,270.8V273.4 M216.8,270.8V273.4 M304.4,270.8V273.4 M392.0,270.8V273.4 M430.6,238.8H435.8 M430.6,174.7H435.8 M430.6,110.6H435.8 M430.6,46.5H435.8 M432.8,270.8H435.8 M432.8,206.7H435.8 M432.8,142.6H435.8 M432.8,78.5H435.8 M481,234.2H486 M481,160.9H486 M481,87.6H486 M481,14.4H486 M483.4,270.8H486 M483.4,197.5H486 M483.4,124.3H486 M483.4,51.0H486" stroke="#000" stroke-width="2" fill="none"/>
<path d="M486,13.4V271.8" stroke="#000" stroke-width="2.1" fill="none"/>
<g font-family="Liberation Serif, serif" fill="#000" stroke="#000" stroke-width="0.3">
<text x="41.8" y="247.4" font-size="16.3" text-anchor="end">0</text>
<text x="41.8" y="190.4" font-size="16.3" text-anchor="end">5</text>
<text x="41.8" y="133.4" font-size="16.3" text-anchor="end">10</text>
<text x="41.8" y="76.5" font-size="16.3" text-anchor="end">15</text>
<text x="41.8" y="19.5" font-size="16.3" text-anchor="end">20</text>
<text x="85.4" y="291.5" font-size="16" text-anchor="middle">10</text>
<text x="173.0" y="291.5" font-size="16" text-anchor="middle">15</text>
<text x="260.6" y="291.5" font-size="16" text-anchor="middle">20</text>
<text x="348.2" y="291.5" font-size="16" text-anchor="middle">25</text>
<text x="435.8" y="291.5" font-size="16" text-anchor="middle">30</text>
<text x="441.5" y="51.3" font-size="16">40</text>
<text x="441.5" y="115.4" font-size="16">20</text>
<text x="441.5" y="179.5" font-size="16">0</text>
<text x="441.5" y="243.6" font-size="16">-20</text>
<text x="491.5" y="19.3" font-size="16">1000</text>
<text x="491.5" y="92.5" font-size="16">500</text>
<text x="491.5" y="165.8" font-size="16">0</text>
<text x="491.5" y="239.1" font-size="16">-500</text>
<text x="243.5" y="309.4" font-size="20.3" text-anchor="middle" font-weight="bold">Time(ms)</text>
<text transform="translate(21.5,135.7) rotate(-90)" font-size="22" font-weight="bold" text-anchor="middle">Arc voltage(V)</text>
<text transform="translate(477,142.3) rotate(-90)" font-size="21.8" font-weight="bold" text-anchor="middle">Arc current(A)</text>
<text transform="translate(539.6,141.7) rotate(-90)" font-size="21.6" font-weight="bold" text-anchor="middle">Contact force(cN)</text>
<rect x="209" y="17.5" width="118" height="51.8" fill="#fff" stroke="#bcbcbc" stroke-width="1.4"/>
<path d="M210.3,25.1H241" stroke="#1f0ff0" stroke-width="2.5"/>
<path d="M210.3,42.8H241" stroke="#d3171e" stroke-width="2"/>
<path d="M210.3,60.5H241" stroke="#000" stroke-width="2.5"/>
<text x="247.6" y="30.4" font-size="14.3">Arc voltage</text>
<text x="247.6" y="48.0" font-size="14.3">Arc current</text>
<text x="247.6" y="65.6" font-size="14.3">Contact force</text>
<text x="333.0" y="34.7" font-size="17">Make arc</text>
<text x="403.0" y="36.1" font-size="22.6">(a)</text>
<rect x="292.4" y="214.6" width="136.7" height="52.8" fill="#fff" stroke="#bcbcbc" stroke-width="1.4"/>
<text x="295.0" y="228.3" font-size="14.4">3042<tspan font-size="10" dy="-5.6">th</tspan><tspan dy="5.6">, AgCuO</tspan></text>
<text x="295.2" y="246.2" font-size="14.4" xml:space="preserve">Arc duration:  15.15ms</text>
<text x="295.2" y="263.8" font-size="14.4">Arc energy: 107.5J</text>
</g>
</svg>
</body></html>
